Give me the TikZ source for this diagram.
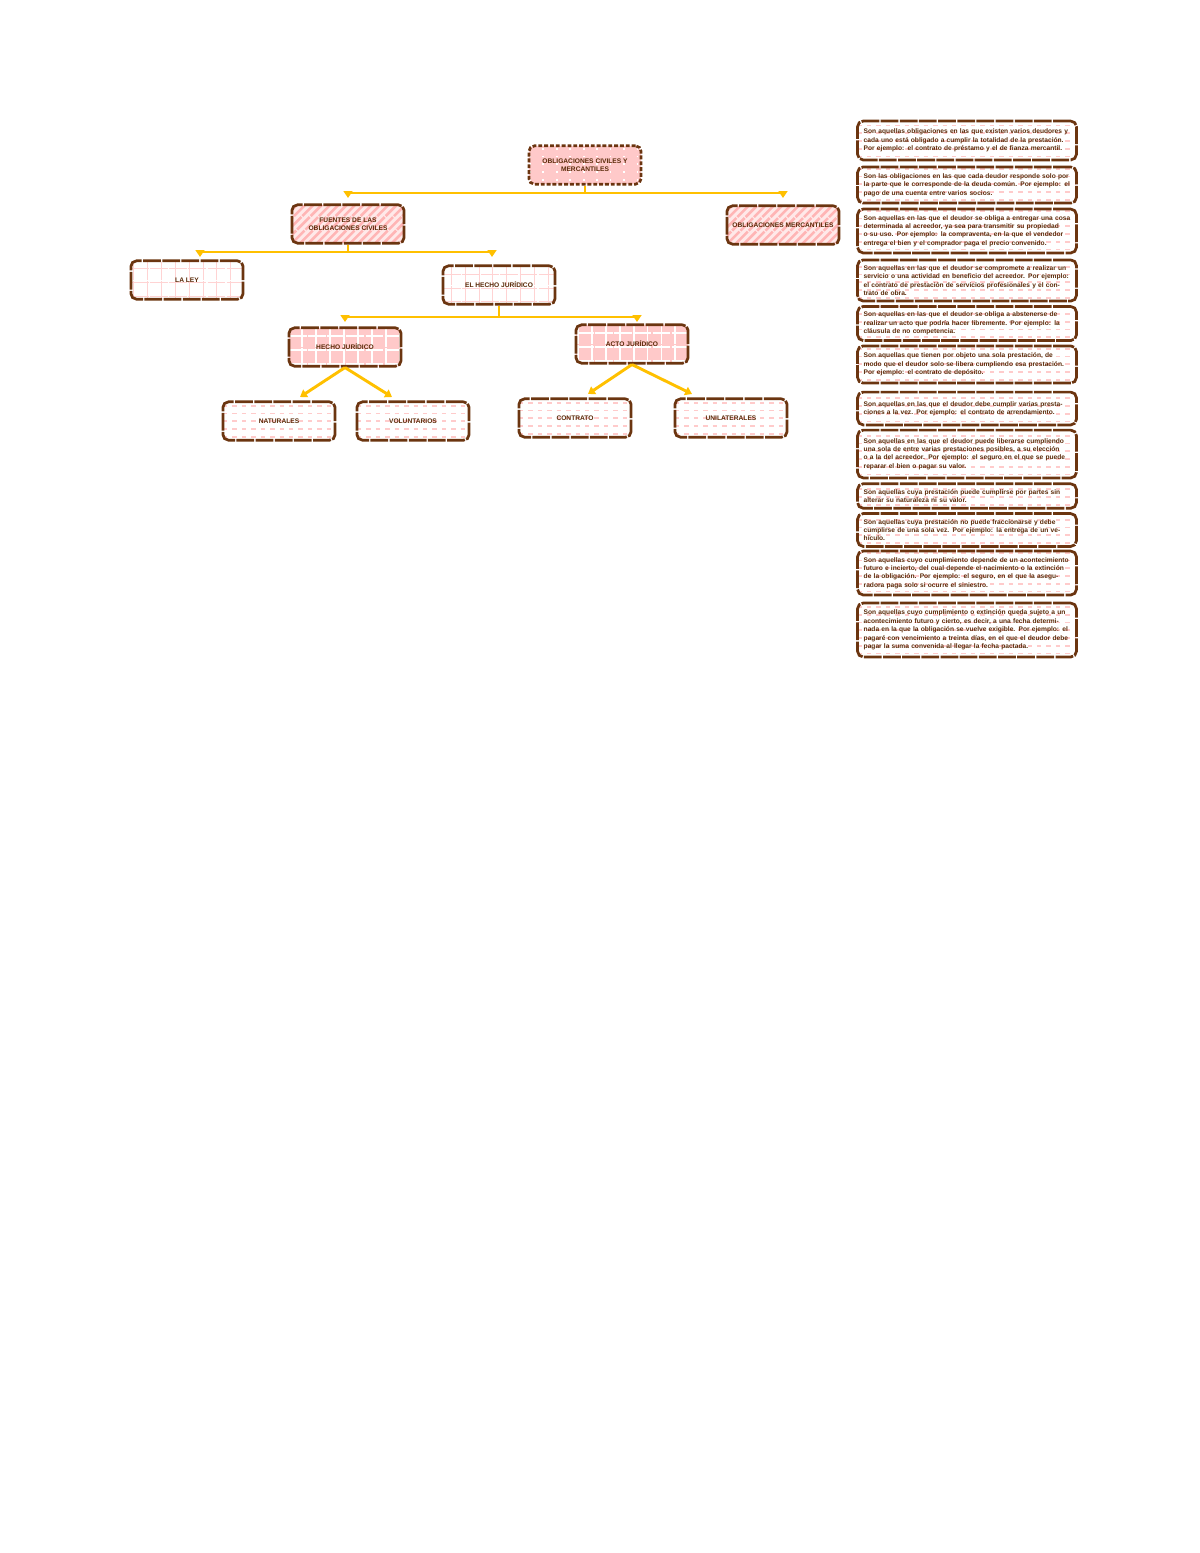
\documentclass[tikz,border=0pt]{standalone}
\usepackage{fontspec}
\setmainfont{Liberation Sans}
\usepackage{xcolor}
\usepackage{tikz}
\usetikzlibrary{calc}
\usetikzlibrary{arrows.meta}
\definecolor{brdr}{HTML}{6B3510}
\definecolor{ink}{HTML}{5A2A08}
\definecolor{gold}{HTML}{FFC000}
\definecolor{rosa}{HTML}{FFC9C9}
\definecolor{rosita}{HTML}{FFE9E9}
\definecolor{rosaline}{HTML}{FFB5B5}
\tikzset{ map_box/.style = {rectangle, rounded corners=0.1cm, draw=brdr, line width=1.4pt, dash pattern=on 0.32cm off 0.025cm, minimum width=2.02cm, minimum height=0.69cm, inner sep=1pt, align=center, text=ink, font=\fontsize{3.4}{4.2}\selectfont\bfseries} }
\tikzset{ dot_fill/.style = {fill=rosa, dash pattern=on 0.07cm off 0.035cm, path picture={\foreach \r in {0.08,0.22,...,0.8} \draw[white, line width=0.9pt, dash pattern=on 0.9pt off 6pt] ([yshift=\r cm]path picture bounding box.south west) -- ([yshift=\r cm]path picture bounding box.south east);}} }
\tikzset{ stripe_fill/.style = {fill=rosita, path picture={\foreach \k in {-0.9,-0.75,...,2.2} \draw[rosaline, line width=1.3pt] ([xshift=\k cm]path picture bounding box.south west) -- ++(1cm,1cm);}} }
\tikzset{ grid_light/.style = {fill=white, path picture={\draw[rosaline!60, line width=0.4pt, step=0.25cm] (path picture bounding box.south west) grid (path picture bounding box.north east);}} }
\tikzset{ grid_strong/.style = {fill=rosa, path picture={\draw[white, line width=0.9pt, step=0.25cm] (path picture bounding box.south west) grid (path picture bounding box.north east);}} }
\tikzset{ dash_fill/.style = {fill=white, path picture={\foreach \r in {0.06,0.2,...,1.2} \draw[rosaline!70, line width=0.9pt, dash pattern=on 0.08cm off 0.09cm] ([yshift=\r cm]path picture bounding box.south west) -- ([yshift=\r cm]path picture bounding box.south east);}} }
\tikzset{ note_box/.style = {map_box, dash_fill, minimum width=3.94cm, text width=3.72cm, align=left, inner sep=0.1cm, font=\fontsize{3.4}{4.3}\selectfont\bfseries} }
\tikzset{ link/.style = {draw=gold, line width=1.5pt} }
\tikzset{ arr/.style = {link, -{Triangle[width=4.5pt,length=3.5pt]}} }

\begin{document}
\begin{tikzpicture}[x=0.018cm,y=-0.018cm]
\useasboundingbox (0,0) rectangle (1200,1553);
% mapa
\node[map_box, dot_fill] (top) at (585,165) {OBLIGACIONES CIVILES Y\\MERCANTILES};
\node[map_box, stripe_fill] (fuentes) at (348,224) {FUENTES DE LAS\\OBLIGACIONES CIVILES};
\node[map_box, stripe_fill] (mercantil) at (783,225) {OBLIGACIONES MERCANTILES};
\node[map_box, grid_light] (ley) at (187,280) {LA LEY};
\node[map_box, grid_light] (hecho) at (499,285) {EL HECHO JUR\'IDICO};
\node[map_box, grid_strong] (hechojur) at (345,347) {HECHO JUR\'IDICO};
\node[map_box, grid_strong] (acto) at (632,344) {ACTO JUR\'IDICO};
\node[map_box, dash_fill] (natural) at (279,421) {NATURALES};
\node[map_box, dash_fill] (volunt) at (413,421) {VOLUNTARIOS};
\node[map_box, dash_fill] (contrato) at (575,418) {CONTRATO};
\node[map_box, dash_fill] (unilat) at (731,418) {UNILATERALES};
% puntos de union
\coordinate (j1) at (585,193);
\coordinate (a1) at (348,198);
\coordinate (a2) at (783,198);
\coordinate (j2) at (348,252);
\coordinate (b1) at (200,257);
\coordinate (b2) at (492,257);
\coordinate (j3) at (499,317);
\coordinate (c1) at (345,322);
\coordinate (c2) at (637,322);
\coordinate (d1) at (300,397);
\coordinate (d2) at (392,397);
\coordinate (e1) at (588,394);
\coordinate (e2) at (692,394);
% conectores
\draw[link] (top.south) -- (j1);
\draw[arr] (j1) -| (a1);
\draw[arr] (j1) -| (a2);
\draw[link] (fuentes.south) -- (j2);
\draw[arr] (j2) -| (b1);
\draw[arr] (j2) -| (b2);
\draw[link] (hecho.south) -- (j3);
\draw[arr] (j3) -| (c1);
\draw[arr] (j3) -| (c2);
\draw[arr] (hechojur.south) -- (d1);
\draw[arr] (hechojur.south) -- (d2);
\draw[arr] (acto.south) -- (e1);
\draw[arr] (acto.south) -- (e2);
% notas
\node[note_box, minimum height=0.70cm] (n1) at (967,140.5) {Son aquellas obligaciones en las que existen varios deudores y cada uno est\'a obligado a cumplir la totalidad de la prestaci\'on. Por ejemplo: el contrato de pr\'estamo y el de fianza mercantil.};
\node[note_box, minimum height=0.65cm] (n2) at (967,185) {Son las obligaciones en las que cada deudor responde solo por la parte que le corresponde de la deuda com\'un. Por ejemplo: el pago de una cuenta entre varios socios.};
\node[note_box, minimum height=0.79cm] (n3) at (967,231) {Son aquellas en las que el deudor se obliga a entregar una cosa determinada al acreedor, ya sea para transmitir su propiedad o su uso. Por ejemplo: la compraventa, en la que el vendedor entrega el bien y el comprador paga el precio convenido.};
\node[note_box, minimum height=0.70cm] (n4) at (967,280.5) {Son aquellas en las que el deudor se compromete a realizar un servicio o una actividad en beneficio del acreedor. Por ejemplo: el contrato de prestaci\'on de servicios profesionales y el contrato de obra.};
\node[note_box, minimum height=0.59cm] (n5) at (967,323.5) {Son aquellas en las que el deudor se obliga a abstenerse de realizar un acto que podr\'ia hacer libremente. Por ejemplo: la cl\'ausula de no competencia.};
\node[note_box, minimum height=0.67cm] (n6) at (967,364.5) {Son aquellas que tienen por objeto una sola prestaci\'on, de modo que el deudor solo se libera cumpliendo esa prestaci\'on. Por ejemplo: el contrato de dep\'osito.};
\node[note_box, minimum height=0.59cm] (n7) at (967,408.5) {Son aquellas en las que el deudor debe cumplir varias prestaciones a la vez. Por ejemplo: el contrato de arrendamiento.};
\node[note_box, minimum height=0.86cm] (n8) at (967,454) {Son aquellas en las que el deudor puede liberarse cumpliendo una sola de entre varias prestaciones posibles, a su elecci\'on o a la del acreedor. Por ejemplo: el seguro en el que se puede reparar el bien o pagar su valor.};
\node[note_box, minimum height=0.43cm] (n9) at (967,496) {Son aquellas cuya prestaci\'on puede cumplirse por partes sin alterar su naturaleza ni su valor.};
\node[note_box, minimum height=0.58cm] (n10) at (967,530) {Son aquellas cuya prestaci\'on no puede fraccionarse y debe cumplirse de una sola vez. Por ejemplo: la entrega de un veh\'iculo.};
\node[note_box, minimum height=0.79cm] (n11) at (967,573) {Son aquellas cuyo cumplimiento depende de un acontecimiento futuro e incierto, del cual depende el nacimiento o la extinci\'on de la obligaci\'on. Por ejemplo: el seguro, en el que la aseguradora paga solo si ocurre el siniestro.};
\node[note_box, minimum height=0.97cm] (n12) at (967,630) {Son aquellas cuyo cumplimiento o extinci\'on queda sujeto a un acontecimiento futuro y cierto, es decir, a una fecha determinada en la que la obligaci\'on se vuelve exigible. Por ejemplo: el pagar\'e con vencimiento a treinta d\'ias, en el que el deudor debe pagar la suma convenida al llegar la fecha pactada.};
\end{tikzpicture}
\end{document}
